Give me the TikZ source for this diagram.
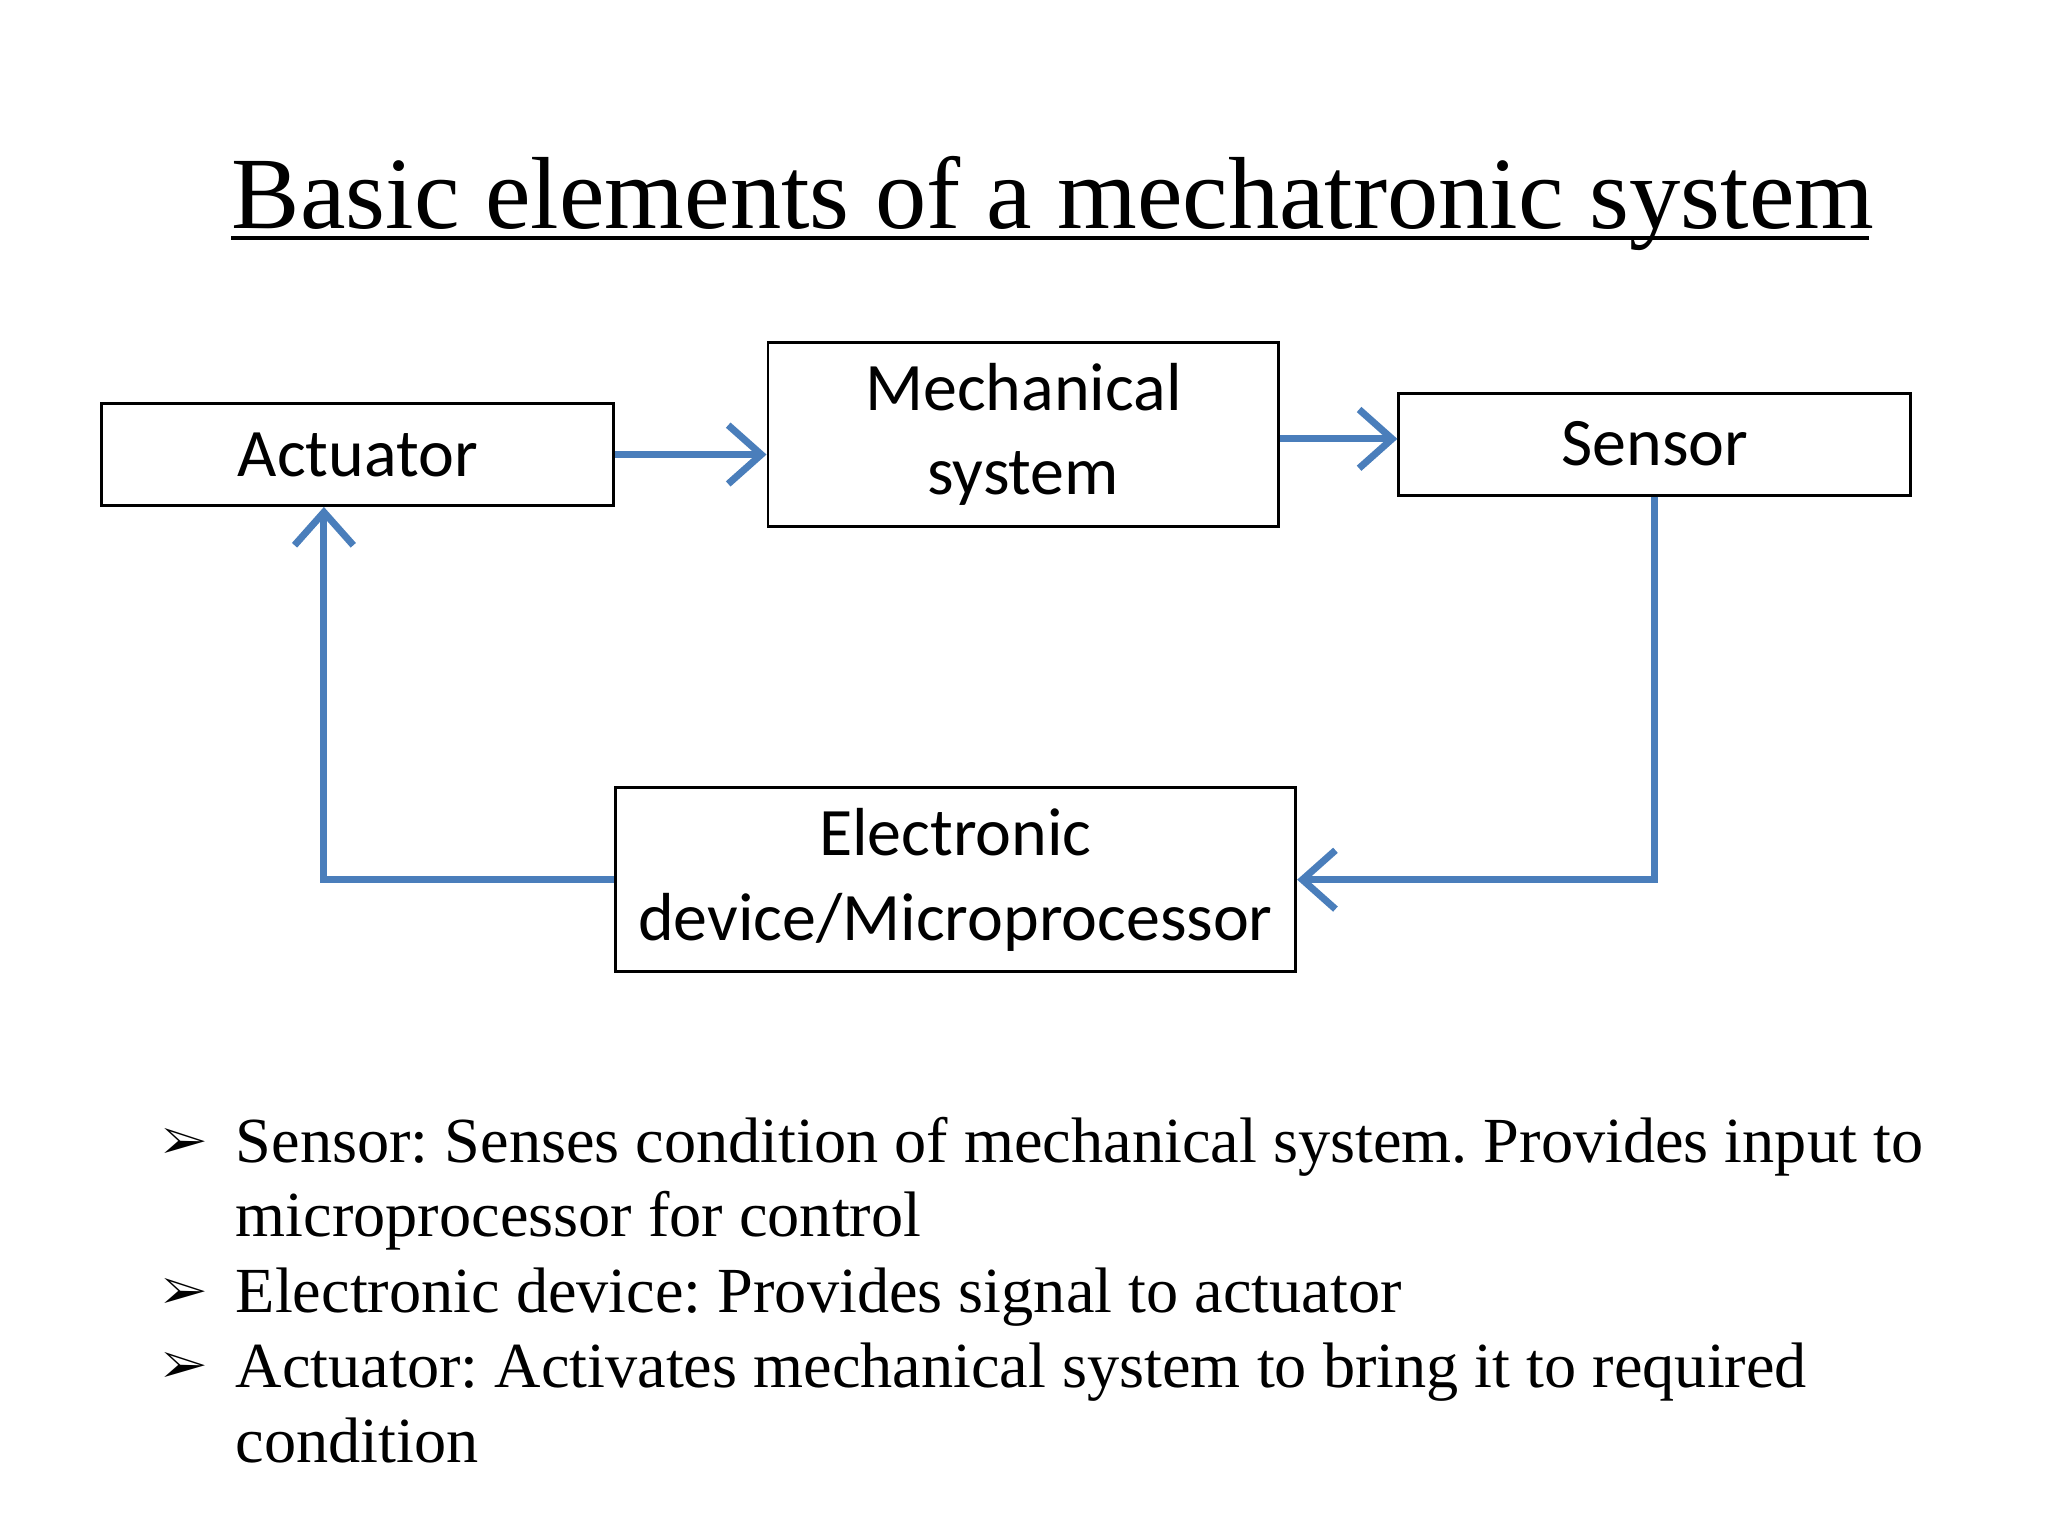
\documentclass[tikz,border=0pt]{standalone}
\usepackage{fontspec}
\usepackage{pifont}
\setmainfont{Liberation Serif}
\newfontfamily\boxfont{Carlito}
\usetikzlibrary{arrows.meta}
\definecolor{lnk}{HTML}{4A7EBB}
\frenchspacing
\begin{document}
\begin{tikzpicture}[x=0.0125cm,y=-0.0125cm,
  blk/.style={draw=black,line width=0.8pt,align=center,font=\boxfont\fontsize{18.5}{23}\selectfont},
  con/.style={draw=lnk,line width=1.9pt,-{Straight Barb[length=9pt,width=16pt,line width=1.9pt]}},
  bl/.style={anchor=base west,inner sep=0,font=\fontsize{17.5}{23}\selectfont},
  bul/.style={anchor=base west,inner sep=0,font=\fontsize{13}{16}\selectfont}]
\useasboundingbox (0,0) rectangle (1568,1176);
\node[anchor=base west,inner sep=0,font=\fontsize{27.9}{34}\selectfont] (title) at (177,175) {Basic elements of a mechatronic system};
\draw[line width=1.2pt] (177,182) -- (1431,182);
\node[blk,minimum width=392*0.0125cm,minimum height=78*0.0125cm] (act) at (274,348) {Actuator};
\node[blk,minimum width=391*0.0125cm,minimum height=141*0.0125cm] (mech) at (783.5,332.5) {Mechanical\\system};
\node[blk,minimum width=392*0.0125cm,minimum height=78*0.0125cm] (sen) at (1267,340) {Sensor};
\node[blk,minimum width=521*0.0125cm,minimum height=141*0.0125cm] (ele) at (731.5,673.5) {Electronic\\device/Microprocessor};
\draw[con] (act.east |- 0,348) -- (mech.west |- 0,348);
\draw[con] (mech.east |- 0,336) -- (sen.west |- 0,336);
\draw[con] (sen.south) |- (ele.east);
\draw[con] (ele.west) -| (act.south -| 248,0);
\node[bul] (b1) at (124,886) {\ding{226}};
\node[bl] (t1) at (180,890) {Sensor: Senses condition of mechanical system. Provides input to};
\node[bl] (t1b) at (180,947) {microprocessor for control};
\node[bul] (b2) at (124,1001) {\ding{226}};
\node[bl] (t2) at (180,1005) {Electronic device: Provides signal to actuator};
\node[bul] (b3) at (124,1058) {\ding{226}};
\node[bl] (t3) at (180,1062) {Actuator: Activates mechanical system to bring it to required};
\node[bl] (t3b) at (180,1120) {condition};
\end{tikzpicture}
\end{document}
